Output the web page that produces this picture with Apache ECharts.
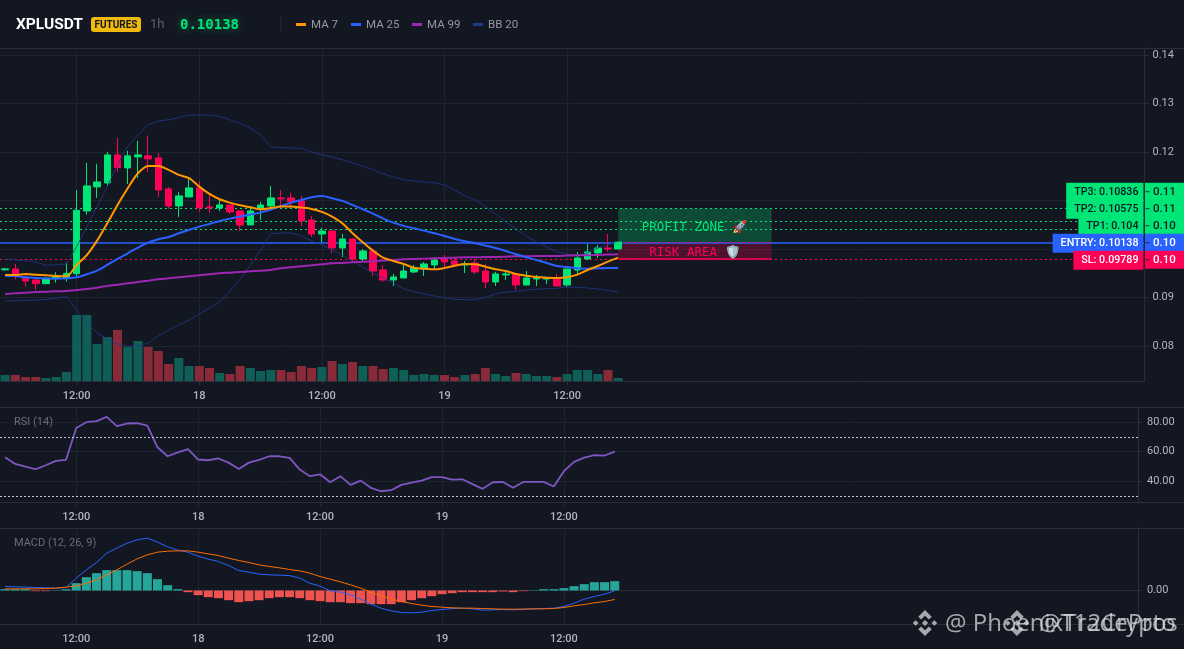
<!DOCTYPE html>
<html><head><meta charset="utf-8"><style>html,body{margin:0;padding:0;background:#131722}#c{width:1184px;height:649px}</style>
<script src="https://cdn.jsdelivr.net/npm/echarts@6/dist/echarts.min.js"></script></head>
<body><div id="c"></div><script>
const symbol='XPLUSDT', market='FUTURES', timeframe='1h', lastPrice='0.10138';
const hours=['05:00','06:00','','','','','','12:00','','','','','','','','','','','','18','','','','','','','','','','','','12:00','','','','','','','','','','','','19','','','','','','','','','','','','12:00','','','','',''];
const priceTicks=[0.08,0.09,0.10,0.11,0.12,0.13,0.14];
const rsiTicks=[40,60,80];
const macdTicks=[0];
// open, close, low, high
const candles=[[.09570,.09590,.09550,.09610],[.09588,.09450,.09375,.09691],[.09409,.09340,.09223,.09498],[.09361,.09285,.09155,.09375],[.09285,.09381,.09285,.09416],[.09395,.09429,.09306,.09519],[.09395,.09498,.09326,.09718],[.09491,.10797,.09443,.11216],[.10783,.11299,.10708,.11773],[.11278,.11381,.11052,.11753],[.11361,.11938,.11299,.12000],[.11938,.11677,.11588,.12289],[.11670,.11918,.11340,.12021],[.11897,.11938,.11464,.12227],[.11918,.11856,.11588,.12330],[.11876,.11216,.11072,.11979],[.11237,.10887,.10825,.11278],[.10887,.11093,.10660,.11175],[.11072,.11258,.11072,.11464],[.11258,.10845,.10763,.11402],[.10866,.10845,.10742,.11155],[.10845,.10907,.10783,.11010],[.10907,.10763,.10722,.10907],[.10783,.10495,.10371,.10783],[.10495,.10783,.10495,.10845],[.10825,.10907,.10598,.10969],[.10887,.11052,.10866,.11299],[.11052,.11031,.10845,.11216],[.11052,.10969,.10845,.11155],[.10990,.10577,.10474,.11093],[.10598,.10309,.10247,.10680],[.10309,.10371,.10144,.10433],[.10371,.10021,.09918,.10371],[.10021,.10206,.09835,.10309],[.10206,.09794,.09732,.10227],[.09794,.09959,.09753,.10000],[.09959,.09546,.09443,.09959],[.09567,.09361,.09320,.09670],[.09361,.09423,.09237,.09485],[.09402,.09546,.09402,.09670],[.09526,.09608,.09505,.09670],[.09587,.09691,.09443,.09732],[.09670,.09773,.09587,.09835],[.09794,.09732,.09587,.09876],[.09753,.09670,.09649,.09794],[.09670,.09691,.09505,.09753],[.09711,.09526,.09485,.09794],[.09546,.09320,.09196,.09691],[.09320,.09485,.09237,.09526],[.09464,.09485,.09361,.09546],[.09485,.09258,.09155,.09505],[.09258,.09402,.09258,.09546],[.09382,.09402,.09237,.09464],[.09382,.09402,.09279,.09402],[.09402,.09237,.09237,.09485],[.09258,.09587,.09217,.09587],[.09567,.09815,.09485,.09939],[.09794,.09939,.09773,.10104],[.09918,.10021,.09815,.10083],[.10021,.10000,.09939,.10309],[.10000,.10144,.10000,.10144]];
const ma7=[.09464,.09464,.09485,.09471,.09457,.09443,.09436,.09670,.09876,.10172,.10529,.10907,.11251,.11560,.11711,.11711,.11629,.11526,.11457,.11285,.11134,.11024,.10955,.10900,.10859,.10818,.10845,.10873,.10873,.10852,.10825,.10763,.10667,.10529,.10323,.10137,.09965,.09821,.09753,.09691,.09615,.09594,.09580,.09608,.09656,.09691,.09683,.09635,.09580,.09546,.09485,.09450,.09423,.09409,.09402,.09416,.09471,.09567,.09649,.09739,.09821];
const ma25=[.09450,.09443,.09416,.09402,.09395,.09388,.09395,.09416,.09478,.09553,.09670,.09794,.09911,.10028,.10131,.10199,.10247,.10323,.10392,.10460,.10515,.10577,.10625,.10667,.10708,.10749,.10811,.10887,.10955,.11010,.11065,.11093,.11045,.10990,.10907,.10818,.10729,.10626,.10543,.10475,.10426,.10378,.10323,.10268,.10206,.10158,.10117,.10069,.10021,.09959,.09890,.09828,.09773,.09711,.09649,.09629,.09601,.09594,.09601,.09608,.09608];
const ma99=[.09072,.09086,.09100,.09113,.09120,.09127,.09134,.09155,.09175,.09203,.09237,.09265,.09292,.09320,.09347,.09375,.09395,.09416,.09436,.09457,.09478,.09498,.09512,.09526,.09539,.09553,.09567,.09601,.09622,.09643,.09663,.09684,.09705,.09711,.09725,.09739,.09746,.09760,.09773,.09787,.09794,.09801,.09808,.09815,.09821,.09828,.09828,.09835,.09835,.09842,.09849,.09849,.09856,.09856,.09856,.09863,.09870,.09870,.09877,.09884,.09891];
const bbUpper=[.09790,.09773,.09759,.09732,.09663,.09677,.09691,.10048,.10460,.10873,.11285,.11732,.12110,.12351,.12557,.12639,.12660,.12708,.12756,.12763,.12756,.12729,.12660,.12591,.12488,.12351,.12096,.12089,.12082,.12076,.12000,.11938,.11897,.11835,.11773,.11711,.11629,.11546,.11485,.11423,.11402,.11381,.11361,.11320,.11216,.11093,.11010,.10866,.10722,.10557,.10412,.10268,.10144,.10041,.09938,.09897,.09876,.09918,.10021,.10082,.10165];
const bbLower=[.08930,.08934,.08938,.08948,.08959,.08990,.09016,.08742,.08474,.08268,.08144,.08041,.08000,.08000,.08062,.08206,.08330,.08433,.08536,.08660,.08784,.08907,.09134,.09381,.09670,.09979,.10309,.10330,.10330,.10268,.10165,.10082,.09979,.09876,.09753,.09629,.09505,.09402,.09299,.09181,.09120,.09072,.09031,.08996,.08963,.08955,.08955,.09004,.09072,.09113,.09128,.09155,.09169,.09181,.09190,.09216,.09210,.09196,.09175,.09148,.09120];
const volumes=[18,18,12,12,9,12,27,198,198,111,132,153,102,120,102,90,51,69,45,45,39,24,21,45,39,30,33,33,27,45,39,42,60,51,57,45,45,36,39,33,18,21,18,18,12,18,21,39,21,15,24,21,15,15,12,21,33,33,21,33,9];
const rsi=[56.2,51.6,49.8,48.0,50.7,53.7,54.4,76.0,79.9,80.6,83.5,77.2,79.0,79.2,77.6,62.9,56.8,59.5,61.6,54.6,54.1,55.3,52.5,48.2,52.5,54.4,56.8,56.8,55.7,47.8,43.3,44.6,39.2,43.3,37.4,40.3,35.4,33.1,33.8,37.4,39.0,40.3,42.6,42.6,41.0,41.2,37.9,34.7,39.2,39.4,35.4,39.4,39.4,39.4,36.3,46.7,53.0,55.9,57.5,57.3,60.0];
const macdLine=[.00048,.00044,.0004,.00036,.00032,.00028,.00036,.00148,.00248,.00336,.00448,.00508,.00568,.00608,.00628,.0058,.00524,.00484,.0046,.00412,.00376,.00348,.003,.0024,.0022,.00196,.00188,.00184,.0018,.00148,.00088,.00052,-.00004,-.0002,-.00052,-.00104,-.00164,-.00212,-.00244,-.00264,-.00268,-.0026,-.0024,-.00228,-.00216,-.00212,-.0022,-.00236,-.00232,-.00228,-.00232,-.00224,-.0022,-.00216,-.00212,-.00192,-.00152,-.00104,-.00072,-.00044,-.00004];
const macdSignal=[.0002,.0002,.0002,.0002,.00024,.00028,.0004,.00056,.00088,.00128,.00188,.00248,.00316,.0038,.00428,.0046,.00472,.00476,.00476,.0046,.0044,.0042,.00388,.0036,.00336,.00308,.00288,.00272,.00252,.00236,.00208,.00168,.00136,.00104,.00068,.00028,-.0002,-.00064,-.001,-.00132,-.00156,-.00176,-.00192,-.002,-.00208,-.00212,-.00212,-.00216,-.0022,-.00224,-.00224,-.00224,-.0022,-.0022,-.00216,-.00204,-.00184,-.00168,-.00148,-.00132,-.00108];
const macdHist=[.00016,.00016,.00016,-.00008,-.00008,.00004,.00016,.00088,.0016,.00208,.00244,.00244,.00244,.00232,.00208,.00136,.00064,.00016,-.0002,-.00056,-.0008,-.00092,-.00116,-.0014,-.00128,-.00116,-.00092,-.0008,-.0008,-.00092,-.00116,-.00128,-.0014,-.0014,-.00152,-.00152,-.00164,-.00164,-.00164,-.0014,-.00116,-.00092,-.00068,-.00044,-.00032,-.0002,-.0002,-.0002,-.0002,-.00012,-.0002,-.00008,.00004,.00016,.00016,.00028,.00052,.00076,.001,.001,.00112];
const tp3=.10836,tp2=.10575,tp1=.104,entry=.10138,sl=.09789;
const tagPrices=[tp3,tp2,tp1,entry,sl];
const tagTexts=['TP3: 0.10836','TP2: 0.10575','TP1: 0.104','ENTRY: 0.10138','SL: 0.09789'];
const tagShort=['0.11','0.11','0.10','0.10','0.10'];
const tagKinds=['tp','tp','tp','entry','sl'];
const profitText='PROFIT ZONE 🚀', riskText='RISK AREA 🛡️';
const legendNames=['MA 7','MA 25','MA 99','BB 20'];
const watermarks=['@ PhoenixTradePros','@T12Crypto'];

const GREEN='#00e676',RED='#ff0055',BLUE='#2962ff',ORANGE='#ff9800',PURPLE='#9c27b0',BB='#1e3a8a';
const BG='#131722',GRID='#1f2430',LINE='#2a2e39',LABEL='#b2b5be',FONT='Roboto';
const N=112;
const cats=hours.concat(new Array(N-hours.length).fill(''));
const show=(i,v)=>v==='12:00'||v==='18'||v==='19';
const last=candles.length-1, zoneEnd=last+15;
const tagColor={tp:GREEN,entry:BLUE,sl:RED}, tagInk={tp:'#131722',entry:'#ffffff',sl:'#ffffff'};

function xAx(grid,labelShow){return{type:'category',gridIndex:grid,data:cats,boundaryGap:true,
  axisLine:{show:labelShow,lineStyle:{color:LINE}},
  axisTick:{show:labelShow,interval:show,alignWithLabel:true,length:4,lineStyle:{color:LINE}},
  axisLabel:{show:labelShow,interval:show,color:LABEL,fontSize:11,fontFamily:FONT,fontWeight:500,margin:10,hideOverlap:false},
  splitLine:{show:labelShow,interval:show,alignWithLabel:true,lineStyle:{color:GRID}}}}
function yAx(grid,min,max,ticks,digits,margin){return{type:'value',gridIndex:grid,position:'right',min,max,scale:true,
  axisLine:{show:true,lineStyle:{color:LINE}},
  axisTick:{show:true,length:4,customValues:ticks,lineStyle:{color:LINE}},
  axisLabel:{color:LABEL,fontSize:11,fontFamily:FONT,margin,customValues:ticks,padding:[2,0,0,0],formatter:v=>v.toFixed(digits)},
  splitLine:{show:true,lineStyle:{color:GRID}}}}

function tagY(api,idx){let y=0;for(let k=tagPrices.length-1;k>=idx;k--){const c=api.coord([0,tagPrices[k]])[1];y=k===tagPrices.length-1?c:Math.min(c,y-17)}return y+0.5}
function renderTag(params,api){
  const i=params.dataIndex,y=tagY(api,i),r=params.coordSys,kind=tagKinds[i],right=r.x+r.width;
  return{type:'group',children:[
   {type:'rect',shape:{x:right,y:y-9,width:1184-right,height:18},style:{fill:tagColor[kind]}},
   {type:'text',style:{x:right+8.5,y:y+.5,text:tagShort[i],fill:tagInk[kind],font:'500 11.5px Roboto',textAlign:'left',textVerticalAlign:'middle'}},
   {type:'rect',shape:{x:right+1,y:y-.5,width:4,height:1},style:{fill:'rgba(19,23,34,.8)'}},
   {type:'text',style:{x:right-1,y:y+.5,text:tagTexts[i],fill:tagInk[kind],font:'500 10.7px Roboto',textAlign:'right',textVerticalAlign:'middle',backgroundColor:tagColor[kind],padding:[4,5,4,8]}},
   {type:'rect',shape:{x:right-.5,y:y-9,width:1,height:18},style:{fill:'rgba(19,23,34,.75)'}}
  ]};
}
const dash=(c)=>({color:c,type:[2,3],width:1});
const lineOf=(name,data,color,width,opacity,smooth)=>({type:'line',name,data,xAxisIndex:0,yAxisIndex:0,symbol:'none',z:4,smooth:smooth||false,lineStyle:{color,width,opacity:opacity||1}});
const txt=(x,y,text,fill,font,extra)=>({type:'text',silent:true,z:20,style:Object.assign({x,y:y+1,text,fill,font,textVerticalAlign:'middle'},extra||{})});
const hline=(y)=>({type:'rect',silent:true,z:1,shape:{x:0,y,width:1184,height:1},style:{fill:LINE}});
function logo(cx,cy,s){const c='rgba(225,225,225,.72)',d=(x,y,r)=>[[x,y-r],[x+r,y],[x,y+r],[x-r,y]];
  const chev=(sgn)=>[[cx,cy+sgn*s],[cx+s*.52,cy+sgn*s*.48],[cx+s*.3,cy+sgn*s*.26],[cx,cy+sgn*s*.56],[cx-s*.3,cy+sgn*s*.26],[cx-s*.52,cy+sgn*s*.48]];
  return [d(cx,cy,s*.24),d(cx-s*.72,cy,s*.22),d(cx+s*.72,cy,s*.22),chev(-1),chev(1)].map(p=>({type:'polygon',silent:true,z:30,shape:{points:p},style:{fill:c}}))}
const legendX=[296,351,412,473],legendC=[ORANGE,BLUE,PURPLE,BB];
const graphic=[hline(48),hline(407),hline(502),hline(528),hline(624),
  txt(16,24,symbol,'#ffffff','700 15.5px Roboto'),
  {type:'rect',silent:true,z:20,shape:{x:91,y:17,width:50,height:15,r:3},style:{fill:'#f0b90b'}},
  txt(116,24,market,'#131722','700 10px Roboto',{textAlign:'center'}),
  txt(150,24,timeframe,'#5d606b','13px Roboto'),
  txt(180,24,lastPrice,GREEN,'700 14px "DejaVu Sans Mono"',{textShadowBlur:8,textShadowColor:'rgba(0,230,118,.5)'}),
  {type:'rect',silent:true,z:20,shape:{x:280.5,y:17,width:1,height:14},style:{fill:LINE}},
  txt(14,421,'RSI (14)','#6a6d78','11px Roboto'),
  txt(14,542,'MACD (12, 26, 9)','#6a6d78','11px Roboto'),
  ...legendNames.flatMap((n,i)=>[{type:'rect',silent:true,z:20,shape:{x:legendX[i],y:23,width:10,height:3},style:{fill:legendC[i]}},txt(legendX[i]+15,24,n,'#9598a1','11.5px Roboto')]),
  ...logo(925,623,13),...logo(1017,623,13),
  txt(945,623,watermarks[0],'rgba(225,225,225,.72)','400 24px "Open Sans"',{z:30}),
  txt(1039,623,watermarks[1],'rgba(225,225,225,.72)','400 24px "Open Sans"',{z:30})
];

const chart=echarts.init(document.getElementById('c'),null,{renderer:'canvas'});
chart.setOption({animation:false,backgroundColor:BG,graphic,
 grid:[{left:-12,top:48,width:1156.5,height:333},{left:-12,top:315,width:1156.5,height:66},{left:-11,top:407,width:1149,height:95},{left:-11,top:528,width:1149,height:96}],
 xAxis:[xAx(0,true),{type:'category',gridIndex:1,data:cats,show:false},xAx(2,true),xAx(3,true)],
 yAxis:[yAx(0,0.0728,0.1414,priceTicks,2,8),{type:'value',gridIndex:1,min:0,max:198,show:false},yAx(2,25.8,90.2,rsiTicks,2,9),yAx(3,-0.00402,0.0075,macdTicks,2,9)],
 series:[
  {type:'bar',name:'Volume',xAxisIndex:1,yAxisIndex:1,barWidth:9,z:1,data:volumes.map((v,i)=>({value:v,itemStyle:{color:candles[i][1]>=candles[i][0]?'#0f5f57':'#892a39'}}))},
  lineOf('BB upper',bbUpper,BB,1,.8),lineOf('BB lower',bbLower,BB,1,.8),
  {type:'candlestick',name:symbol,xAxisIndex:0,yAxisIndex:0,data:candles,barWidth:7,z:3,
   itemStyle:{color:GREEN,color0:RED,borderColor:GREEN,borderColor0:RED,borderWidth:1},
   markArea:{silent:true,z:2,data:[
     [{name:profitText,xAxis:last,yAxis:entry,itemStyle:{color:'rgba(0,230,118,.25)'},label:{color:GREEN}},{xAxis:zoneEnd,yAxis:tp3}],
     [{name:riskText,xAxis:last,yAxis:sl,itemStyle:{color:'rgba(255,0,85,.25)'},label:{color:RED}},{xAxis:zoneEnd,yAxis:entry}]],
     label:{show:true,position:'inside',offset:[0,2],fontFamily:'"DejaVu Sans Mono"',fontSize:12.5,fontWeight:500}},
   markLine:{silent:true,precision:5,symbol:['none','none'],label:{show:false},animation:false,z:2,data:[
     {yAxis:tp3,lineStyle:dash(GREEN)},{yAxis:tp2,lineStyle:dash(GREEN)},{yAxis:tp1,lineStyle:dash(GREEN)},
     {yAxis:entry,lineStyle:{color:BLUE,type:'solid',width:1.5}},{yAxis:sl,lineStyle:dash(RED)},
     [{coord:[last,sl],lineStyle:{color:RED,type:'solid',width:1.5}},{coord:[zoneEnd,sl]}],
     [{coord:[last,entry],lineStyle:dash(RED)},{coord:[zoneEnd,entry]}]]}},
  lineOf('MA 99',ma99,PURPLE,2,1,.3),lineOf('MA 25',ma25,BLUE,2,1,.3),lineOf('MA 7',ma7,ORANGE,2,1,.3),
  {type:'custom',name:'Tags',xAxisIndex:0,yAxisIndex:0,z:40,silent:true,clip:false,data:tagPrices.map(p=>[0,p]),encode:{x:0,y:1},renderItem:renderTag},
  {type:'line',name:'RSI',xAxisIndex:2,yAxisIndex:2,data:rsi,symbol:'none',lineStyle:{color:'#7e57c2',width:1.8},
   markLine:{silent:true,symbol:['none','none'],label:{show:false},data:[{yAxis:70},{yAxis:30}],lineStyle:{color:'#c4c7cf',type:[2,2],width:1}}},
  {type:'bar',name:'Histogram',xAxisIndex:3,yAxisIndex:3,barWidth:9,data:macdHist.map(v=>({value:v,itemStyle:{color:v>=0?'#26a69a':'#ef5350'}}))},
  {type:'line',name:'MACD',xAxisIndex:3,yAxisIndex:3,data:macdLine,symbol:'none',lineStyle:{color:BLUE,width:1},z:4},
  {type:'line',name:'Signal',xAxisIndex:3,yAxisIndex:3,data:macdSignal,symbol:'none',lineStyle:{color:'#ff6d00',width:1},z:4}
 ]});
</script></body></html>
